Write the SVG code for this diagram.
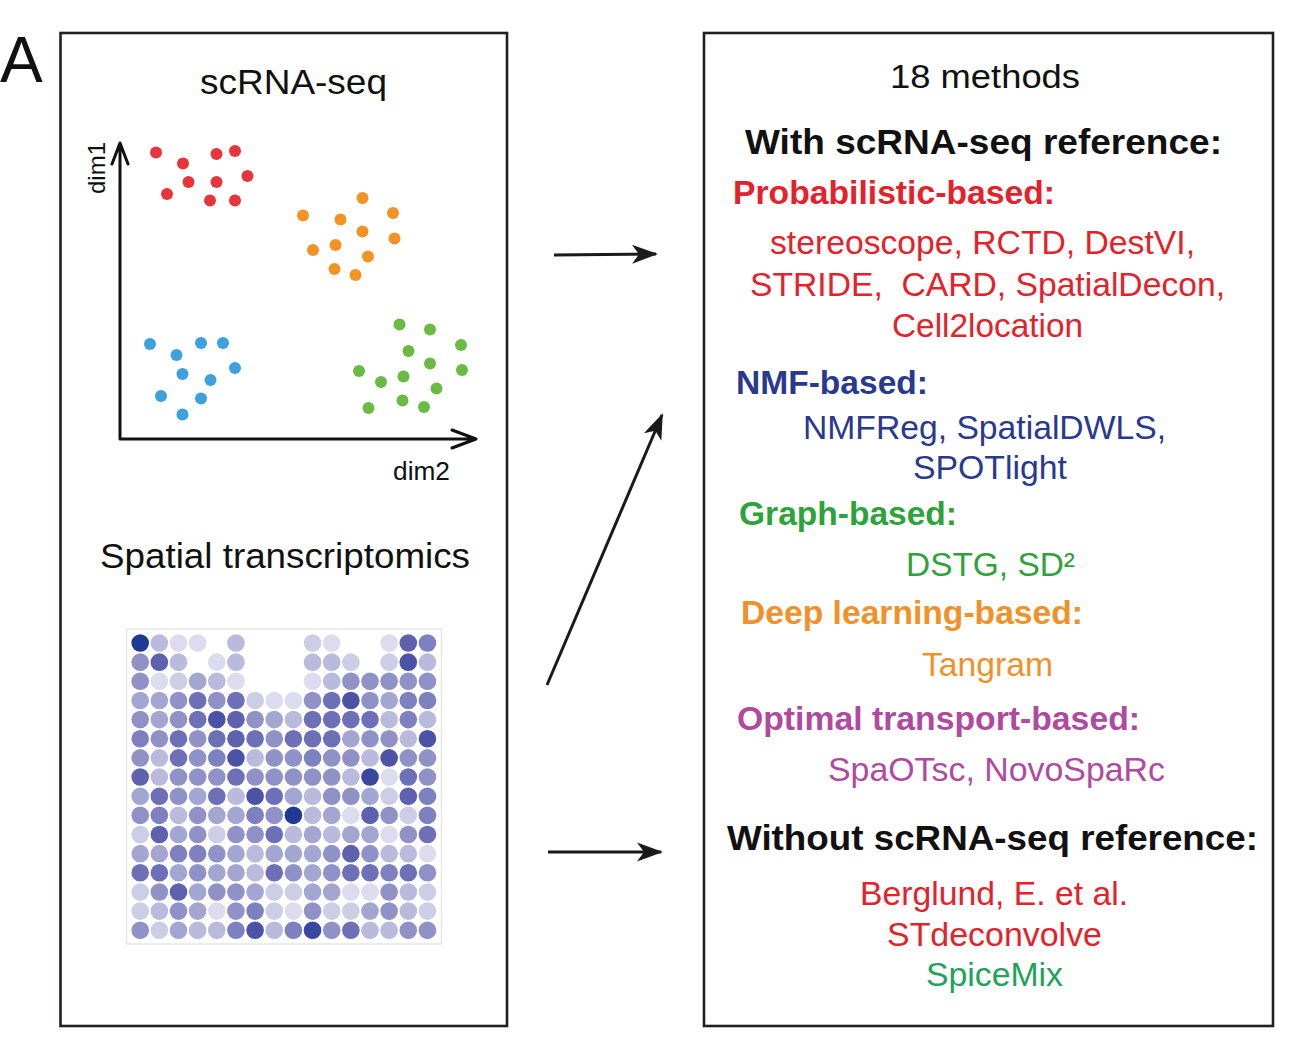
<svg xmlns="http://www.w3.org/2000/svg" width="1292" height="1054" viewBox="0 0 1292 1054">
<style>
text{font-family:"Liberation Sans",Arial,sans-serif}
.box{fill:none;stroke:#231f20;stroke-width:2.6}
.ttl{font-size:35.5px;fill:#111}
.hd{font-size:35px;font-weight:bold;fill:#111}
.sub{font-size:32.5px;font-weight:bold}
.it{font-size:33px;text-anchor:middle}
.red{fill:#e3222b}.nav{fill:#29398e}.grn{fill:#2ea23b}.org{fill:#f0912a}.pur{fill:#b04a9e}.tea{fill:#20a35a}
.ax{fill:none;stroke:#111;stroke-width:3;stroke-linecap:round;stroke-linejoin:round}
.dr{fill:#e8343b}.do{fill:#f39325}.db{fill:#3ba2dd}.dg{fill:#6bba44}
.a{fill:#dcdcee}.b{fill:#cdcde6}.c{fill:#b9badc}.d{fill:#a4a6d2}.e{fill:#9092c7}.f{fill:#7e81bf}.g{fill:#6d70b6}.h{fill:#5d61ae}.i{fill:#4c53a6}.j{fill:#3a47a0}.k{fill:#1f3a94}
.con{fill:none;stroke:#1a1a1a;stroke-width:3}
</style>
<defs>
<marker id="ah" markerUnits="userSpaceOnUse" markerWidth="30" markerHeight="24" refX="0" refY="0" viewBox="-26 -12 30 24" orient="auto">
<path d="M2,0 L-24,-9.5 L-17,0 L-24,9.5 Z" fill="#1a1a1a"/>
</marker>
</defs>
<text x="0" y="82" style="font-size:64px;fill:#111">A</text>
<g id="panel-left">
<rect class="box" x="60.5" y="33" width="446.5" height="993"/>
<text class="ttl" x="293.5" y="94" text-anchor="middle" textLength="187" lengthAdjust="spacingAndGlyphs">scRNA-seq</text>
<g id="scatter">
<path class="ax" d="M120,439 V144 M112,164 L120,143 L128,164 M120,439 H476 M452,430 L476,439 L452,448"/>
<text transform="translate(105,168) rotate(-90)" text-anchor="middle" style="font-size:24px;fill:#111">dim1</text>
<text x="421.5" y="480" text-anchor="middle" style="font-size:25px;fill:#111" textLength="57" lengthAdjust="spacingAndGlyphs">dim2</text>
<g class="dr">
<circle cx="156" cy="152.5" r="6"/><circle cx="183" cy="163.5" r="6"/><circle cx="216.5" cy="154" r="6"/><circle cx="235" cy="151" r="6"/><circle cx="247.5" cy="176" r="6"/><circle cx="188.5" cy="182" r="6"/><circle cx="216.5" cy="182" r="6"/><circle cx="167" cy="194" r="6"/><circle cx="210" cy="200.5" r="6"/><circle cx="235" cy="200.5" r="6"/>
</g>
<g class="do">
<circle cx="362.5" cy="198" r="6"/><circle cx="303" cy="215.5" r="6"/><circle cx="340.5" cy="219.5" r="6"/><circle cx="393" cy="213" r="6"/><circle cx="362.5" cy="231.5" r="6"/><circle cx="394.5" cy="238.5" r="6"/><circle cx="335.5" cy="245" r="6"/><circle cx="313" cy="250" r="6"/><circle cx="368" cy="256.5" r="6"/><circle cx="334.5" cy="269" r="6"/><circle cx="355.5" cy="275" r="6"/>
</g>
<g class="db">
<circle cx="150" cy="344" r="6"/><circle cx="176.5" cy="355" r="6"/><circle cx="201" cy="343" r="6"/><circle cx="223" cy="343" r="6"/><circle cx="235" cy="368" r="6"/><circle cx="182.5" cy="374" r="6"/><circle cx="210.5" cy="380" r="6"/><circle cx="161" cy="396" r="6"/><circle cx="201" cy="398.5" r="6"/><circle cx="182.5" cy="414.5" r="6"/>
</g>
<g class="dg">
<circle cx="399.5" cy="324.5" r="6"/><circle cx="430" cy="329.5" r="6"/><circle cx="461" cy="345" r="6"/><circle cx="408.5" cy="351" r="6"/><circle cx="430" cy="363.5" r="6"/><circle cx="462" cy="370" r="6"/><circle cx="359" cy="371" r="6"/><circle cx="381" cy="382" r="6"/><circle cx="403.5" cy="376.5" r="6"/><circle cx="436.5" cy="388.5" r="6"/><circle cx="368.5" cy="408" r="6"/><circle cx="402.5" cy="400.5" r="6"/><circle cx="424" cy="407" r="6"/>
</g>
</g>
<text class="ttl" x="285" y="568" text-anchor="middle" textLength="370" lengthAdjust="spacingAndGlyphs">Spatial transcriptomics</text>
<g id="spatial-grid">
<rect x="126.5" y="629" width="315" height="315" fill="#fff" stroke="#e6e6e6" stroke-width="1.5"/>
<g transform="translate(140.2,643) scale(19.15)">
<circle cx="0" cy="0" r=".46" class="k"/><circle cx="1" cy="0" r=".46" class="c"/><circle cx="2" cy="0" r=".46" class="a"/><circle cx="3" cy="0" r=".46" class="a"/><circle cx="5" cy="0" r=".46" class="c"/><circle cx="9" cy="0" r=".46" class="b"/><circle cx="10" cy="0" r=".46" class="a"/><circle cx="13" cy="0" r=".46" class="a"/><circle cx="14" cy="0" r=".46" class="h"/><circle cx="15" cy="0" r=".46" class="f"/>
<circle cx="0" cy="1" r=".46" class="e"/><circle cx="1" cy="1" r=".46" class="h"/><circle cx="2" cy="1" r=".46" class="c"/><circle cx="4" cy="1" r=".46" class="a"/><circle cx="5" cy="1" r=".46" class="c"/><circle cx="9" cy="1" r=".46" class="c"/><circle cx="10" cy="1" r=".46" class="c"/><circle cx="11" cy="1" r=".46" class="b"/><circle cx="13" cy="1" r=".46" class="b"/><circle cx="14" cy="1" r=".46" class="i"/><circle cx="15" cy="1" r=".46" class="c"/>
<circle cx="0" cy="2" r=".46" class="e"/><circle cx="1" cy="2" r=".46" class="a"/><circle cx="2" cy="2" r=".46" class="b"/><circle cx="3" cy="2" r=".46" class="d"/><circle cx="4" cy="2" r=".46" class="c"/><circle cx="5" cy="2" r=".46" class="a"/><circle cx="9" cy="2" r=".46" class="a"/><circle cx="10" cy="2" r=".46" class="c"/><circle cx="11" cy="2" r=".46" class="e"/><circle cx="12" cy="2" r=".46" class="e"/><circle cx="13" cy="2" r=".46" class="e"/><circle cx="14" cy="2" r=".46" class="e"/><circle cx="15" cy="2" r=".46" class="e"/>
<circle cx="0" cy="3" r=".46" class="d"/><circle cx="1" cy="3" r=".46" class="d"/><circle cx="2" cy="3" r=".46" class="e"/><circle cx="3" cy="3" r=".46" class="g"/><circle cx="4" cy="3" r=".46" class="e"/><circle cx="5" cy="3" r=".46" class="g"/><circle cx="6" cy="3" r=".46" class="b"/><circle cx="7" cy="3" r=".46" class="a"/><circle cx="8" cy="3" r=".46" class="a"/><circle cx="9" cy="3" r=".46" class="e"/><circle cx="10" cy="3" r=".46" class="g"/><circle cx="11" cy="3" r=".46" class="i"/><circle cx="12" cy="3" r=".46" class="e"/><circle cx="13" cy="3" r=".46" class="d"/><circle cx="14" cy="3" r=".46" class="f"/><circle cx="15" cy="3" r=".46" class="f"/>
<circle cx="0" cy="4" r=".46" class="e"/><circle cx="1" cy="4" r=".46" class="d"/><circle cx="2" cy="4" r=".46" class="e"/><circle cx="3" cy="4" r=".46" class="g"/><circle cx="4" cy="4" r=".46" class="i"/><circle cx="5" cy="4" r=".46" class="h"/><circle cx="6" cy="4" r=".46" class="e"/><circle cx="7" cy="4" r=".46" class="d"/><circle cx="8" cy="4" r=".46" class="c"/><circle cx="9" cy="4" r=".46" class="g"/><circle cx="10" cy="4" r=".46" class="g"/><circle cx="11" cy="4" r=".46" class="g"/><circle cx="12" cy="4" r=".46" class="g"/><circle cx="13" cy="4" r=".46" class="c"/><circle cx="14" cy="4" r=".46" class="f"/><circle cx="15" cy="4" r=".46" class="c"/>
<circle cx="0" cy="5" r=".46" class="f"/><circle cx="1" cy="5" r=".46" class="e"/><circle cx="2" cy="5" r=".46" class="g"/><circle cx="3" cy="5" r=".46" class="e"/><circle cx="4" cy="5" r=".46" class="g"/><circle cx="5" cy="5" r=".46" class="h"/><circle cx="6" cy="5" r=".46" class="g"/><circle cx="7" cy="5" r=".46" class="e"/><circle cx="8" cy="5" r=".46" class="g"/><circle cx="9" cy="5" r=".46" class="g"/><circle cx="10" cy="5" r=".46" class="g"/><circle cx="11" cy="5" r=".46" class="d"/><circle cx="12" cy="5" r=".46" class="e"/><circle cx="13" cy="5" r=".46" class="e"/><circle cx="14" cy="5" r=".46" class="c"/><circle cx="15" cy="5" r=".46" class="i"/>
<circle cx="0" cy="6" r=".46" class="e"/><circle cx="1" cy="6" r=".46" class="c"/><circle cx="2" cy="6" r=".46" class="g"/><circle cx="3" cy="6" r=".46" class="e"/><circle cx="4" cy="6" r=".46" class="f"/><circle cx="5" cy="6" r=".46" class="i"/><circle cx="6" cy="6" r=".46" class="c"/><circle cx="7" cy="6" r=".46" class="e"/><circle cx="8" cy="6" r=".46" class="e"/><circle cx="9" cy="6" r=".46" class="f"/><circle cx="10" cy="6" r=".46" class="e"/><circle cx="11" cy="6" r=".46" class="e"/><circle cx="12" cy="6" r=".46" class="c"/><circle cx="13" cy="6" r=".46" class="i"/><circle cx="14" cy="6" r=".46" class="e"/><circle cx="15" cy="6" r=".46" class="e"/>
<circle cx="0" cy="7" r=".46" class="h"/><circle cx="1" cy="7" r=".46" class="c"/><circle cx="2" cy="7" r=".46" class="e"/><circle cx="3" cy="7" r=".46" class="e"/><circle cx="4" cy="7" r=".46" class="e"/><circle cx="5" cy="7" r=".46" class="g"/><circle cx="6" cy="7" r=".46" class="e"/><circle cx="7" cy="7" r=".46" class="e"/><circle cx="8" cy="7" r=".46" class="e"/><circle cx="9" cy="7" r=".46" class="e"/><circle cx="10" cy="7" r=".46" class="e"/><circle cx="11" cy="7" r=".46" class="c"/><circle cx="12" cy="7" r=".46" class="j"/><circle cx="13" cy="7" r=".46" class="a"/><circle cx="14" cy="7" r=".46" class="g"/><circle cx="15" cy="7" r=".46" class="e"/>
<circle cx="0" cy="8" r=".46" class="d"/><circle cx="1" cy="8" r=".46" class="g"/><circle cx="2" cy="8" r=".46" class="e"/><circle cx="3" cy="8" r=".46" class="d"/><circle cx="4" cy="8" r=".46" class="g"/><circle cx="5" cy="8" r=".46" class="c"/><circle cx="6" cy="8" r=".46" class="i"/><circle cx="7" cy="8" r=".46" class="g"/><circle cx="8" cy="8" r=".46" class="d"/><circle cx="9" cy="8" r=".46" class="c"/><circle cx="10" cy="8" r=".46" class="e"/><circle cx="11" cy="8" r=".46" class="e"/><circle cx="12" cy="8" r=".46" class="d"/><circle cx="13" cy="8" r=".46" class="b"/><circle cx="14" cy="8" r=".46" class="h"/><circle cx="15" cy="8" r=".46" class="f"/>
<circle cx="0" cy="9" r=".46" class="e"/><circle cx="1" cy="9" r=".46" class="f"/><circle cx="2" cy="9" r=".46" class="c"/><circle cx="3" cy="9" r=".46" class="e"/><circle cx="4" cy="9" r=".46" class="d"/><circle cx="5" cy="9" r=".46" class="d"/><circle cx="6" cy="9" r=".46" class="f"/><circle cx="7" cy="9" r=".46" class="e"/><circle cx="8" cy="9" r=".46" class="k"/><circle cx="9" cy="9" r=".46" class="c"/><circle cx="10" cy="9" r=".46" class="d"/><circle cx="11" cy="9" r=".46" class="a"/><circle cx="12" cy="9" r=".46" class="h"/><circle cx="13" cy="9" r=".46" class="e"/><circle cx="14" cy="9" r=".46" class="b"/><circle cx="15" cy="9" r=".46" class="f"/>
<circle cx="0" cy="10" r=".46" class="b"/><circle cx="1" cy="10" r=".46" class="h"/><circle cx="2" cy="10" r=".46" class="d"/><circle cx="3" cy="10" r=".46" class="e"/><circle cx="4" cy="10" r=".46" class="b"/><circle cx="5" cy="10" r=".46" class="e"/><circle cx="6" cy="10" r=".46" class="e"/><circle cx="7" cy="10" r=".46" class="g"/><circle cx="8" cy="10" r=".46" class="c"/><circle cx="9" cy="10" r=".46" class="d"/><circle cx="10" cy="10" r=".46" class="c"/><circle cx="11" cy="10" r=".46" class="d"/><circle cx="12" cy="10" r=".46" class="d"/><circle cx="13" cy="10" r=".46" class="a"/><circle cx="14" cy="10" r=".46" class="e"/><circle cx="15" cy="10" r=".46" class="g"/>
<circle cx="0" cy="11" r=".46" class="d"/><circle cx="1" cy="11" r=".46" class="d"/><circle cx="2" cy="11" r=".46" class="f"/><circle cx="3" cy="11" r=".46" class="f"/><circle cx="4" cy="11" r=".46" class="e"/><circle cx="5" cy="11" r=".46" class="d"/><circle cx="6" cy="11" r=".46" class="c"/><circle cx="7" cy="11" r=".46" class="d"/><circle cx="8" cy="11" r=".46" class="d"/><circle cx="9" cy="11" r=".46" class="d"/><circle cx="10" cy="11" r=".46" class="e"/><circle cx="11" cy="11" r=".46" class="h"/><circle cx="12" cy="11" r=".46" class="e"/><circle cx="13" cy="11" r=".46" class="c"/><circle cx="14" cy="11" r=".46" class="c"/><circle cx="15" cy="11" r=".46" class="a"/>
<circle cx="0" cy="12" r=".46" class="g"/><circle cx="1" cy="12" r=".46" class="g"/><circle cx="2" cy="12" r=".46" class="d"/><circle cx="3" cy="12" r=".46" class="e"/><circle cx="4" cy="12" r=".46" class="d"/><circle cx="5" cy="12" r=".46" class="d"/><circle cx="6" cy="12" r=".46" class="c"/><circle cx="7" cy="12" r=".46" class="g"/><circle cx="8" cy="12" r=".46" class="e"/><circle cx="9" cy="12" r=".46" class="d"/><circle cx="10" cy="12" r=".46" class="e"/><circle cx="11" cy="12" r=".46" class="g"/><circle cx="12" cy="12" r=".46" class="g"/><circle cx="13" cy="12" r=".46" class="f"/><circle cx="14" cy="12" r=".46" class="g"/><circle cx="15" cy="12" r=".46" class="e"/>
<circle cx="0" cy="13" r=".46" class="b"/><circle cx="1" cy="13" r=".46" class="e"/><circle cx="2" cy="13" r=".46" class="h"/><circle cx="3" cy="13" r=".46" class="d"/><circle cx="4" cy="13" r=".46" class="e"/><circle cx="5" cy="13" r=".46" class="e"/><circle cx="6" cy="13" r=".46" class="d"/><circle cx="7" cy="13" r=".46" class="b"/><circle cx="8" cy="13" r=".46" class="b"/><circle cx="9" cy="13" r=".46" class="d"/><circle cx="10" cy="13" r=".46" class="d"/><circle cx="11" cy="13" r=".46" class="a"/><circle cx="12" cy="13" r=".46" class="a"/><circle cx="13" cy="13" r=".46" class="e"/><circle cx="14" cy="13" r=".46" class="c"/><circle cx="15" cy="13" r=".46" class="b"/>
<circle cx="0" cy="14" r=".46" class="b"/><circle cx="1" cy="14" r=".46" class="c"/><circle cx="2" cy="14" r=".46" class="e"/><circle cx="3" cy="14" r=".46" class="d"/><circle cx="4" cy="14" r=".46" class="a"/><circle cx="5" cy="14" r=".46" class="e"/><circle cx="6" cy="14" r=".46" class="f"/><circle cx="7" cy="14" r=".46" class="b"/><circle cx="8" cy="14" r=".46" class="a"/><circle cx="9" cy="14" r=".46" class="e"/><circle cx="10" cy="14" r=".46" class="b"/><circle cx="11" cy="14" r=".46" class="b"/><circle cx="12" cy="14" r=".46" class="d"/><circle cx="13" cy="14" r=".46" class="e"/><circle cx="14" cy="14" r=".46" class="c"/><circle cx="15" cy="14" r=".46" class="b"/>
<circle cx="0" cy="15" r=".46" class="e"/><circle cx="1" cy="15" r=".46" class="b"/><circle cx="2" cy="15" r=".46" class="d"/><circle cx="3" cy="15" r=".46" class="c"/><circle cx="4" cy="15" r=".46" class="c"/><circle cx="5" cy="15" r=".46" class="f"/><circle cx="6" cy="15" r=".46" class="i"/><circle cx="7" cy="15" r=".46" class="c"/><circle cx="8" cy="15" r=".46" class="f"/><circle cx="9" cy="15" r=".46" class="j"/><circle cx="10" cy="15" r=".46" class="e"/><circle cx="11" cy="15" r=".46" class="g"/><circle cx="12" cy="15" r=".46" class="c"/><circle cx="13" cy="15" r=".46" class="c"/><circle cx="14" cy="15" r=".46" class="e"/><circle cx="15" cy="15" r=".46" class="e"/>
</g>
</g>
</g>
<g id="panel-right">
<rect class="box" x="704" y="33" width="569" height="993"/>
<text class="ttl" x="985" y="88" text-anchor="middle" style="font-size:34px" textLength="190" lengthAdjust="spacingAndGlyphs">18 methods</text>
<text class="hd" x="745" y="154" textLength="477" lengthAdjust="spacingAndGlyphs">With scRNA-seq reference:</text>
<text class="sub red" x="733" y="204" textLength="322" lengthAdjust="spacingAndGlyphs">Probabilistic-based:</text>
<text class="it red" x="982.5" y="254" textLength="425" lengthAdjust="spacingAndGlyphs">stereoscope, RCTD, DestVI,</text>
<text class="it red" x="987.5" y="296" xml:space="preserve" textLength="475" lengthAdjust="spacingAndGlyphs">STRIDE,  CARD, SpatialDecon,</text>
<text class="it red" x="987.5" y="337" textLength="191" lengthAdjust="spacingAndGlyphs">Cell2location</text>
<text class="sub nav" x="736" y="394" textLength="192" lengthAdjust="spacingAndGlyphs">NMF-based:</text>
<text class="it nav" x="984.5" y="439" textLength="363" lengthAdjust="spacingAndGlyphs">NMFReg, SpatialDWLS,</text>
<text class="it nav" x="990" y="479" textLength="154" lengthAdjust="spacingAndGlyphs">SPOTlight</text>
<text class="sub grn" x="739" y="525" textLength="218" lengthAdjust="spacingAndGlyphs">Graph-based:</text>
<text class="it grn" x="990.5" y="576" textLength="169" lengthAdjust="spacingAndGlyphs">DSTG, SD²</text>
<text class="sub org" x="741" y="624" textLength="342" lengthAdjust="spacingAndGlyphs">Deep learning-based:</text>
<text class="it org" x="987.5" y="676" textLength="131" lengthAdjust="spacingAndGlyphs">Tangram</text>
<text class="sub pur" x="737" y="730" textLength="403" lengthAdjust="spacingAndGlyphs">Optimal transport-based:</text>
<text class="it pur" x="996.5" y="781" textLength="337" lengthAdjust="spacingAndGlyphs">SpaOTsc, NovoSpaRc</text>
<text class="hd" x="727" y="850" textLength="531" lengthAdjust="spacingAndGlyphs">Without scRNA-seq reference:</text>
<text class="it red" x="994" y="905" textLength="268" lengthAdjust="spacingAndGlyphs">Berglund, E. et al.</text>
<text class="it red" x="994.5" y="946" textLength="215" lengthAdjust="spacingAndGlyphs">STdeconvolve</text>
<text class="it tea" x="994.5" y="986" textLength="137" lengthAdjust="spacingAndGlyphs">SpiceMix</text>
</g>
<g id="connectors">
<line class="con" x1="554" y1="255" x2="656" y2="254" marker-end="url(#ah)"/>
<line class="con" x1="547" y1="685" x2="662" y2="415" marker-end="url(#ah)"/>
<line class="con" x1="548" y1="852" x2="661" y2="852" marker-end="url(#ah)"/>
</g>
</svg>
